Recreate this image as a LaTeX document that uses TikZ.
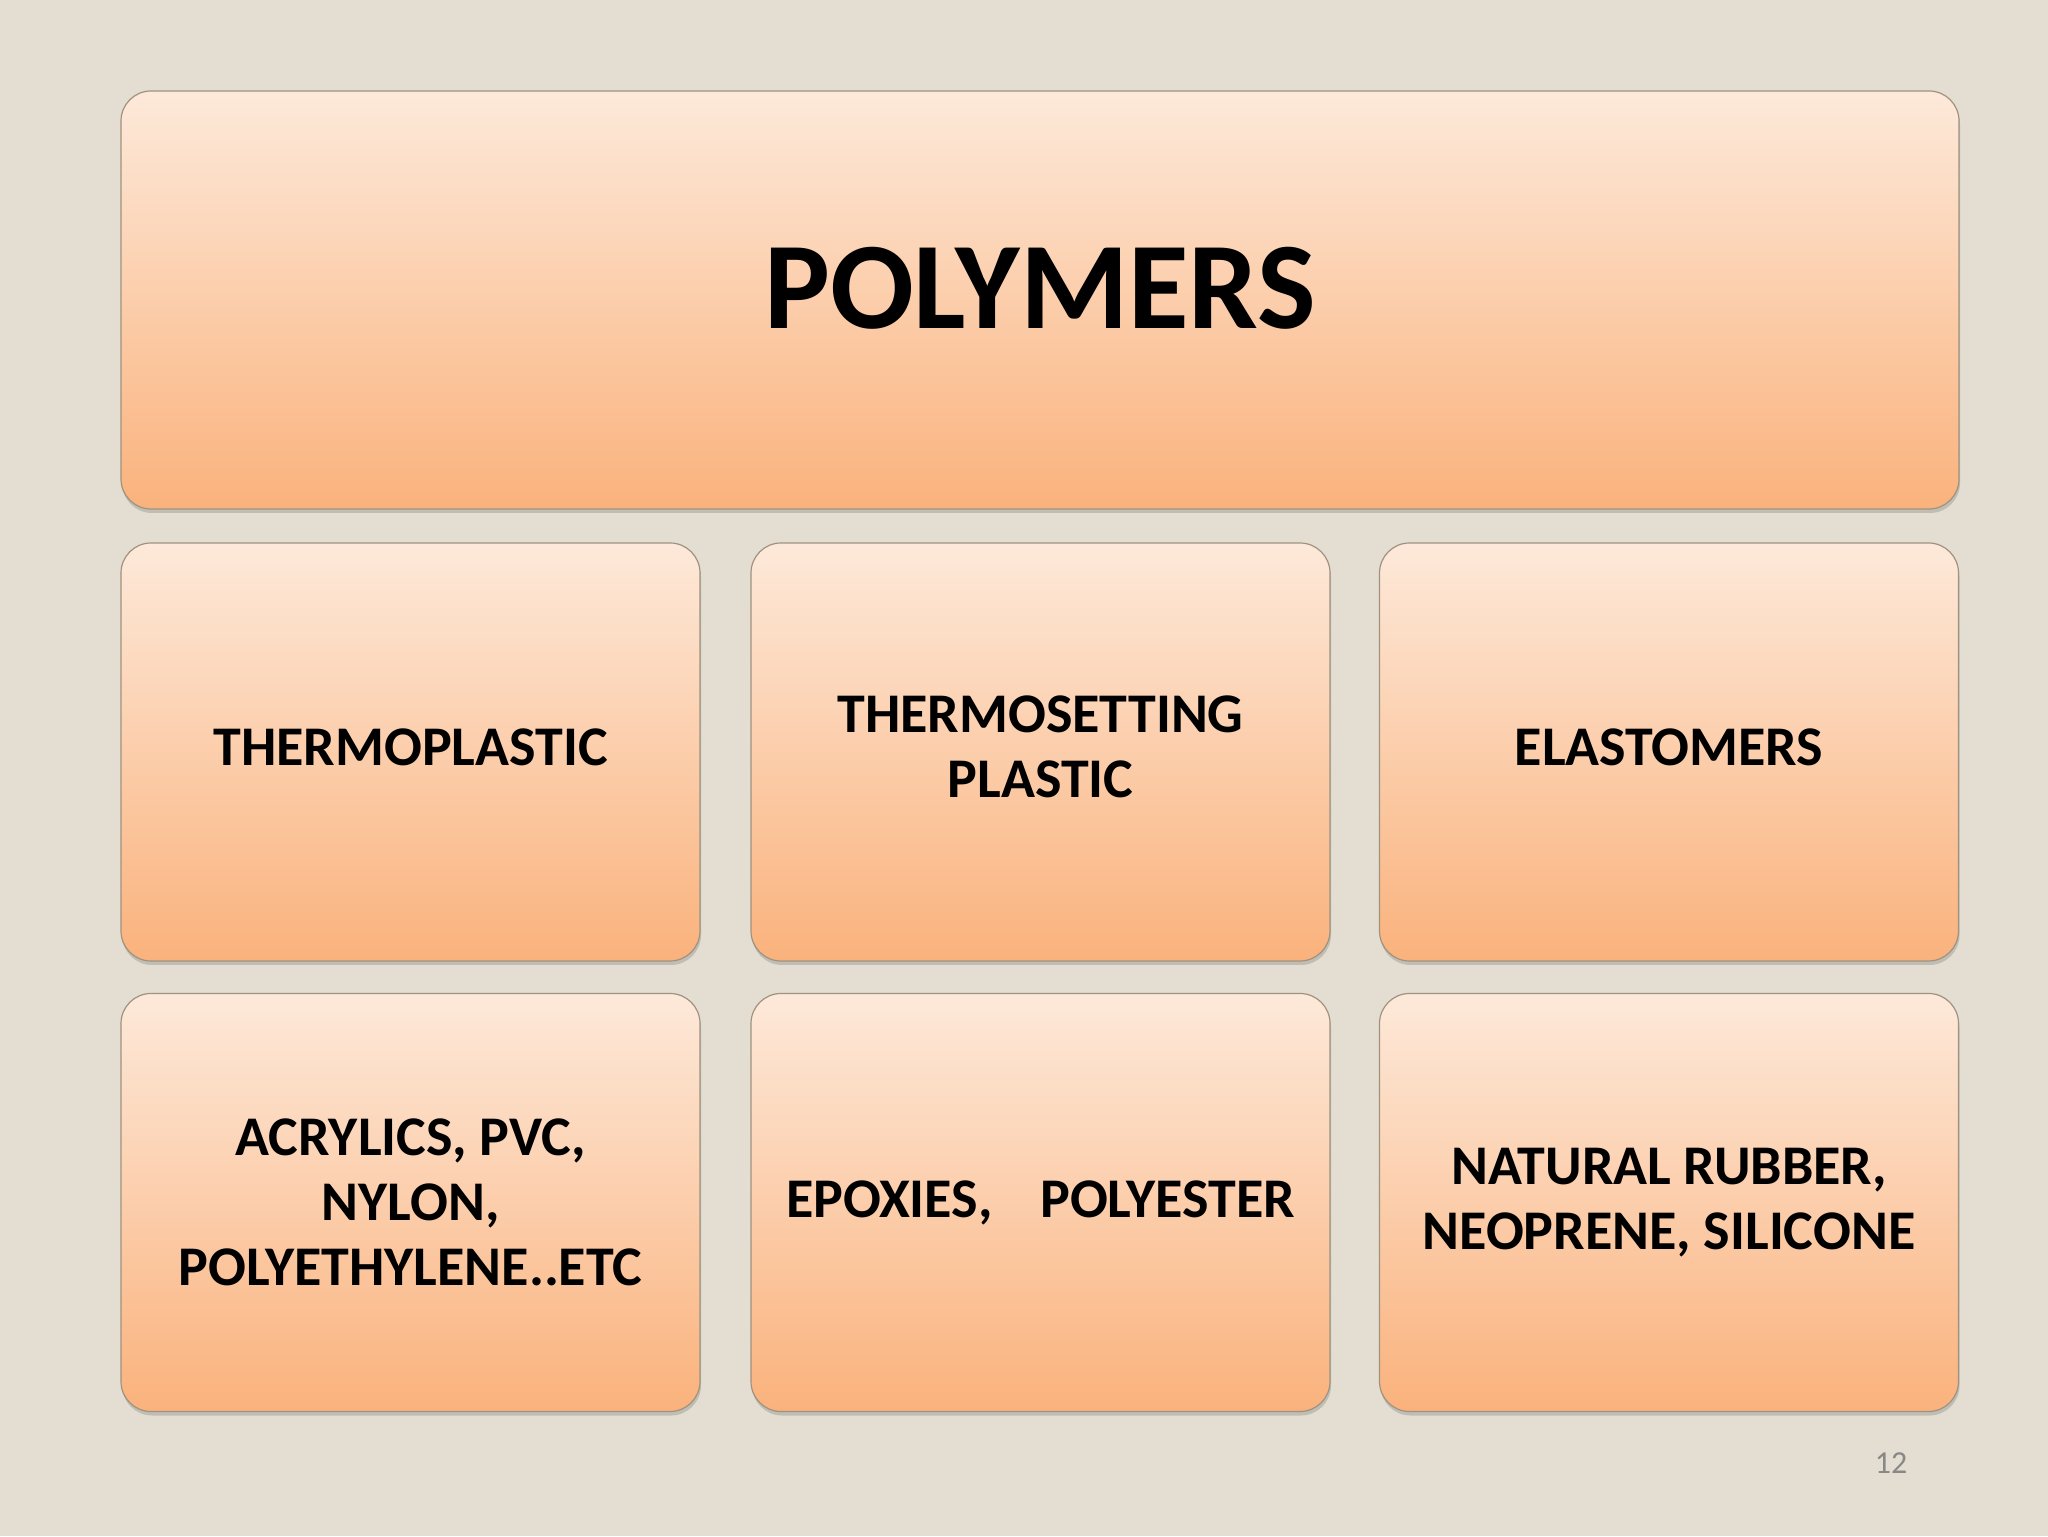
\documentclass[tikz,border=0pt]{standalone}
\usepackage{fontspec}
\setmainfont{Carlito}
\usepackage{xcolor}
\usetikzlibrary{shadows}
\definecolor{slidebg}{HTML}{E3DED1}
\definecolor{peachtop}{HTML}{FDE9DA}
\definecolor{peachbot}{HTML}{FAB27C}
\definecolor{boxline}{HTML}{A0927F}
\definecolor{numgray}{HTML}{8A8885}

\begin{document}
\begin{tikzpicture}[x=0.5pt, y=0.5pt,
  tile/.style={rounded corners=15pt, draw=boxline, line width=0.6pt,
    top color=peachtop, bottom color=peachbot, align=center,
    minimum width=289.5pt, minimum height=209pt, inner sep=4pt,
    drop shadow={shadow xshift=0.5pt, shadow yshift=-2pt, opacity=0.35},
    font=\bfseries\fontsize{28}{32.5}\selectfont},
  typetile/.style={tile, text depth=5pt},
  headtile/.style={tile, minimum width=919pt, text depth=12pt,
    font=\bfseries\fontsize{62}{74}\selectfont}]
\useasboundingbox (0, 0) rectangle (2048, 1536);
\fill [slidebg] (0, 0) rectangle (2048, 1536);
%Header
\node [headtile] (polymers) at (1040, 1236) {POLYMERS};
%Types
\node [typetile] (thermoplastic) at (410.5, 784) {THERMOPLASTIC};
\node [typetile] (thermoset) at (1040.5, 784) {THERMOSETTING\\PLASTIC};
\node [typetile] (elastomers) at (1669, 784) {ELASTOMERS};
%Examples
\node [tile] (plasticex) at (410.5, 333.5) {ACRYLICS, PVC,\\NYLON,\\POLYETHYLENE..ETC};
\node [tile] (thermosetex) at (1040.5, 333.5) {EPOXIES,\hspace{0.85em}POLYESTER};
\node [tile] (elastomerex) at (1669, 333.5) {NATURAL RUBBER,\\NEOPRENE, SILICONE};
%Page number
\node [text=numgray, font=\fontsize{16}{19}\selectfont] (pagenum) at (1891, 73) {12};
\end{tikzpicture}
\end{document}
